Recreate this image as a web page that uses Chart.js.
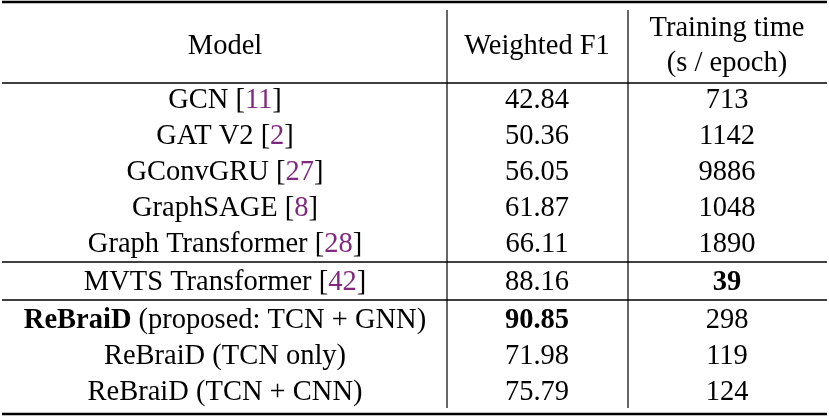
<!DOCTYPE html>
<html>
<head>
<meta charset="utf-8">
<script src="https://cdn.jsdelivr.net/npm/chart.js@4"></script>
<style>
  html, body { margin: 0; padding: 0; background: #fff; }
  #wrap { width: 829px; height: 419px; }
</style>
</head>
<body>
<div id="wrap"><canvas id="tbl"></canvas></div>
<script>
// table data
const models = ['GCN', 'GAT V2', 'GConvGRU', 'GraphSAGE', 'Graph Transformer',
  'MVTS Transformer', 'ReBraiD', 'ReBraiD (TCN only)', 'ReBraiD (TCN + CNN)'];
const refs = ['11', '2', '27', '8', '28', '42', '', '', ''];
const suffix = ['', '', '', '', '', '', ' (proposed: TCN + GNN)', '', ''];
const weightedF1 = ['42.84', '50.36', '56.05', '61.87', '66.11', '88.16', '90.85', '71.98', '75.79'];
const trainTime = ['713', '1142', '9886', '1048', '1890', '39', '298', '119', '124'];
const headers = ['Model', 'Weighted F1', 'Training time|(s / epoch)'];
const groups = [5, 1, 3];

const FONT = '"Liberation Serif", "DejaVu Serif", serif';
const SIZE = 28.5;
const PURPLE = '#7f2a7f';

// layout in pixel units (x/y scales map 1:1 to the canvas)
const colCenter = [225, 537, 727];
const colSep = [447, 628];
const rowPitch = 36;

function rowLayout() {
  const ys = [], lines = [];
  let y = 83 + 18;
  groups.forEach((n, g) => {
    for (let k = 0; k < n; k++) { ys.push(y); y += rowPitch; }
    if (g < groups.length - 1) { lines.push(y - 19); y += 2; }
  });
  return { ys, lines };
}

const tablePlugin = {
  id: 'tablePlugin',
  afterDraw(chart) {
    const ctx = chart.ctx, sx = chart.scales.x, sy = chart.scales.y;
    const X = v => sx.getPixelForValue(v), Y = v => sy.getPixelForValue(v);
    const { ys, lines } = rowLayout();
    ctx.save();
    ctx.strokeStyle = '#000';
    // rules
    const hline = (y, w) => { ctx.lineWidth = w; ctx.beginPath(); ctx.moveTo(X(2), Y(y)); ctx.lineTo(X(827), Y(y)); ctx.stroke(); };
    hline(2, 2.5);
    hline(83, 1.5);
    lines.forEach(l => hline(l, 1.5));
    hline(414, 2.5);
    ctx.lineWidth = 1.2;
    colSep.forEach(x => { ctx.beginPath(); ctx.moveTo(X(x), Y(10)); ctx.lineTo(X(x), Y(408)); ctx.stroke(); });

    ctx.textBaseline = 'middle';
    const put = (parts, cx, cy) => {
      let w = 0;
      parts.forEach(p => { ctx.font = (p.bold ? 'bold ' : '') + SIZE + 'px ' + FONT; w += ctx.measureText(p.t).width; });
      let x = X(cx) - w / 2;
      ctx.textAlign = 'left';
      parts.forEach(p => {
        ctx.font = (p.bold ? 'bold ' : '') + SIZE + 'px ' + FONT;
        ctx.fillStyle = p.c || '#000';
        ctx.fillText(p.t, x, Y(cy));
        x += ctx.measureText(p.t).width;
      });
    };
    // header
    put([{ t: headers[0] }], colCenter[0], 47);
    put([{ t: headers[1] }], colCenter[1], 47);
    const th = headers[2].split('|');
    put([{ t: th[0] }], colCenter[2], 29);
    put([{ t: th[1] }], colCenter[2], 64);
    // body
    const bestF1 = weightedF1.indexOf(Math.max(...weightedF1.map(Number)).toFixed(2));
    const bestT = trainTime.indexOf(String(Math.min(...trainTime.map(Number))));
    models.forEach((m, i) => {
      const y = ys[i];
      const parts = [];
      if (suffix[i]) parts.push({ t: m, bold: true }, { t: suffix[i] });
      else parts.push({ t: m });
      if (refs[i]) parts.push({ t: ' [' }, { t: refs[i], c: PURPLE }, { t: ']' });
      put(parts, colCenter[0], y);
      put([{ t: weightedF1[i], bold: i === bestF1 }], colCenter[1], y);
      put([{ t: trainTime[i], bold: i === bestT }], colCenter[2], y);
    });
    ctx.restore();
  }
};

new Chart(document.getElementById('tbl'), {
  type: 'scatter',
  data: { datasets: [{ data: [] }] },
  options: {
    responsive: true,
    maintainAspectRatio: false,
    animation: false,
    layout: { padding: 0 },
    plugins: { legend: { display: false }, tooltip: { enabled: false } },
    scales: {
      x: { type: 'linear', min: 0, max: 829, display: false },
      y: { type: 'linear', min: 0, max: 419, reverse: true, display: false },
    },
  },
  plugins: [tablePlugin],
});
</script>
</body>
</html>
